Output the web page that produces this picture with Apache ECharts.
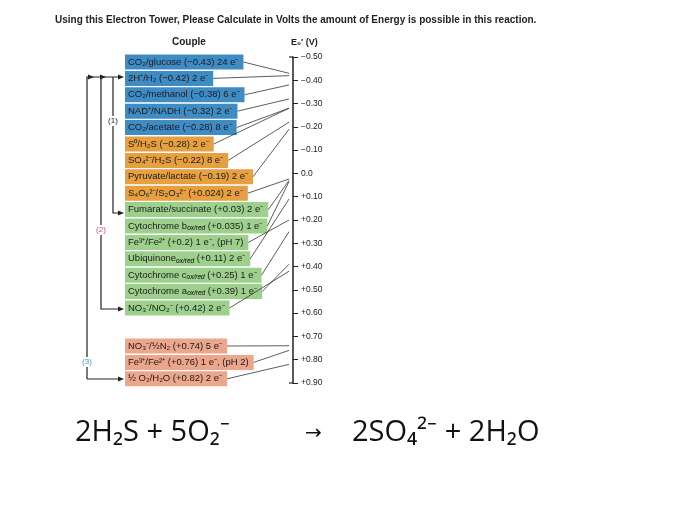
<!DOCTYPE html>
<html><head><meta charset="utf-8">
<script src="https://cdn.jsdelivr.net/npm/echarts@6/dist/echarts.min.js"></script>
<style>html,body{margin:0;padding:0;background:#fff}#c{width:700px;height:505px}</style>
</head><body><div id="c"></div>
<script>
const couples = ["CO₂/glucose (−0.43) 24 e⁻","2H⁺/H₂ (−0.42) 2 e⁻","CO₂/methanol (−0.38) 6 e⁻","NAD⁺/NADH (−0.32) 2 e⁻","CO₂/acetate (−0.28) 8 e⁻",
"S⁰/H₂S (−0.28) 2 e⁻","SO₄²⁻/H₂S (−0.22) 8 e⁻","Pyruvate/lactate (−0.19) 2 e⁻","S₄O₆²⁻/S₂O₃²⁻ (+0.024) 2 e⁻",
"Fumarate/succinate (+0.03) 2 e⁻","Cytochrome b|ox/red| (+0.035) 1 e⁻","Fe³⁺/Fe²⁺ (+0.2) 1 e⁻, (pH 7)","Ubiquinone|ox/red| (+0.11) 2 e⁻",
"Cytochrome c|ox/red| (+0.25) 1 e⁻","Cytochrome a|ox/red| (+0.39) 1 e⁻","NO₃⁻/NO₂⁻ (+0.42) 2 e⁻",
"NO₃⁻/½N₂ (+0.74) 5 e⁻","Fe³⁺/Fe²⁺ (+0.76) 1 e⁻, (pH 2)","½ O₂/H₂O (+0.82) 2 e⁻"];
const potentials = [-0.43,-0.42,-0.38,-0.32,-0.28,-0.28,-0.22,-0.19,0.024,0.03,0.035,0.2,0.11,0.25,0.39,0.42,0.74,0.76,0.82];
const groups = [0,0,0,0,0,1,1,1,1,2,2,2,2,2,2,2,3,3,3];
const groupColors = ['#3f8bc4','#e6a03f','#9dd08c','#eba68c'];
const tickLabels = {"-0.5":"−0.50","-0.4":"−0.40","-0.3":"−0.30","-0.2":"−0.20","-0.1":"−0.10","0":"0.0"};

const F='"Liberation Sans"';
const ctx = document.createElement('canvas').getContext('2d');
function toRich(s){
  const p=s.split('|');
  if(p.length===1) return {text:'{a|'+s+'}',w:(ctx.font='9.5px '+F,ctx.measureText(s).width)};
  ctx.font='9.5px '+F; let w=ctx.measureText(p[0]+p[2]).width;
  ctx.font='italic 6.5px '+F; w+=ctx.measureText(p[1]).width;
  return {text:'{a|'+p[0]+'}{s|'+p[1]+'}{a|'+p[2]+'}',w:w};
}
function rowY(i){ return 62 + i*16.4 + (i>=16?21.6:0); }

const chart = echarts.init(document.getElementById('c'));
chart.setOption({
  animation:false,
  grid:{left:293,width:10,top:57,bottom:122},
  xAxis:{type:'value',min:0,max:1,show:false},
  yAxis:{type:'value',inverse:true,min:-0.5,max:0.9,interval:0.1,position:'left',
    axisLine:{show:true,lineStyle:{color:'#222',width:1.5}},
    axisTick:{show:true,inside:true,length:5,lineStyle:{color:'#222'}},
    splitLine:{show:false},
    axisLabel:{inside:true,margin:8,fontSize:8.5,color:'#222',fontFamily:'Liberation Sans',
      formatter:v=>{const k=String(Math.round(v*10)/10); return tickLabels[k]||('+'+v.toFixed(2));}}},
  series:[{type:'custom',coordinateSystem:'cartesian2d',
    data:potentials.map((v,i)=>[0,v,i]),
    renderItem:(params,api)=>{
      const i=api.value(2), v=api.value(1);
      const p=api.coord([0,v]);
      const y=rowY(i), x0=125;
      const r=toRich(couples[i]);
      const w=r.w+8;
      return {type:'group',children:[
        {type:'rect',shape:{x:x0,y:y-7.5,width:w,height:15},style:{fill:groupColors[groups[i]]}},
        {type:'text',style:{x:x0+3,y:y,text:r.text,verticalAlign:'middle',
          rich:{a:{fontSize:9.5,fontFamily:'Liberation Sans',fill:'#1b1b1b',color:'#1b1b1b'},
                s:{fontSize:6.5,fontStyle:'italic',fontFamily:'Liberation Sans',color:'#1b1b1b',verticalAlign:'bottom',padding:[4,0,0,0]}}}},
        {type:'line',shape:{x1:x0+w,y1:y,x2:p[0]-4,y2:p[1]},style:{stroke:'#333',lineWidth:0.8}}
      ]};
    }}],
  graphic:[
    {type:'text',left:55,top:15,style:{text:'Using this Electron Tower, Please Calculate in Volts the amount of Energy is possible in this reaction.',font:'bold 10px '+F,fill:'#222'}},
    {type:'text',left:172,top:37,style:{text:'Couple',font:'bold 10px '+F,fill:'#222'}},
    {type:'text',left:291,top:38,style:{text:"E₀′ (V)",font:'bold 9px '+F,fill:'#222'}},
    {type:'polyline',shape:{points:[[87,379],[87,77],[122,77]]},style:{stroke:'#222',lineWidth:1.2,fill:null}},
    {type:'polyline',shape:{points:[[101,77],[101,309],[122,309]]},style:{stroke:'#222',lineWidth:1.2,fill:null}},
    {type:'polyline',shape:{points:[[113,77],[113,213],[122,213]]},style:{stroke:'#222',lineWidth:1.2,fill:null}},
    {type:'line',shape:{x1:87,y1:379,x2:122,y2:379},style:{stroke:'#222',lineWidth:1.2}},
    {type:'polygon',shape:{points:[[124,77],[118,74.5],[118,79.5]]},style:{fill:'#222'}},
    {type:'polygon',shape:{points:[[106,77],[100,74.5],[100,79.5]]},style:{fill:'#222'}},
    {type:'polygon',shape:{points:[[94,77],[88,74.5],[88,79.5]]},style:{fill:'#222'}},
    {type:'polygon',shape:{points:[[124,213],[118,210.5],[118,215.5]]},style:{fill:'#222'}},
    {type:'polygon',shape:{points:[[124,309],[118,306.5],[118,311.5]]},style:{fill:'#222'}},
    {type:'polygon',shape:{points:[[124,379],[118,376.5],[118,381.5]]},style:{fill:'#222'}},
    {type:'text',x:113,y:121,style:{text:'(1)',font:'8px '+F,fill:'#222',align:'center',verticalAlign:'middle',backgroundColor:'#fff',padding:[1,0]}},
    {type:'text',x:101,y:230,style:{text:'(2)',font:'8px '+F,fill:'#d0507a',align:'center',verticalAlign:'middle',backgroundColor:'#fff',padding:[1,0]}},
    {type:'text',x:87,y:362,style:{text:'(3)',font:'8px '+F,fill:'#3aa0b8',align:'center',verticalAlign:'middle',backgroundColor:'#fff',padding:[1,0]}},
    {type:'line',shape:{x1:289,y1:57,x2:293,y2:57},style:{stroke:'#222',lineWidth:1.2}},
    {type:'line',shape:{x1:289,y1:383,x2:293,y2:383},style:{stroke:'#222',lineWidth:1.2}},
    {type:'text',left:75,top:418,style:{text:'2H₂S + 5O₂⁻',font:'29px "Open Sans"',fill:'#111'}},
    {type:'text',left:305,top:424,style:{text:'→',font:'20px "DejaVu Sans"',fill:'#111'}},
    {type:'text',left:352,top:418,style:{text:'2SO₄²⁻ + 2H₂O',font:'29px "Open Sans"',fill:'#111'}}
  ]
});
</script></body></html>
